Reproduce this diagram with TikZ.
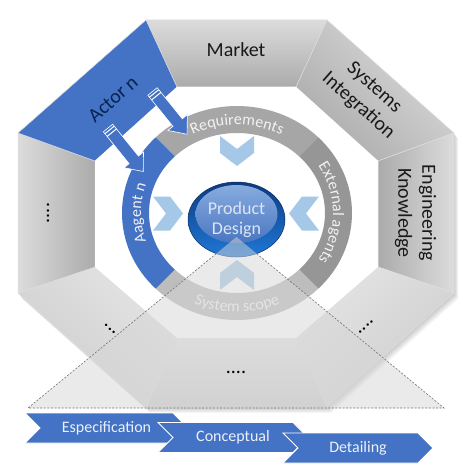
\documentclass[tikz,border=0pt]{standalone}
\usepackage{fontspec}
\setmainfont{Carlito}
\usetikzlibrary{calc,shapes.geometric,shapes.symbols,decorations.text}
\definecolor{actorblue}{HTML}{4472C4}
\definecolor{chevblue}{HTML}{9DC3E6}
\definecolor{ringtop}{HTML}{A6A6A6}
\definecolor{ringright}{HTML}{969696}
\definecolor{ringbottom}{HTML}{BDBDBD}
\definecolor{navy}{HTML}{0E3A80}
\definecolor{brightblue}{HTML}{1F78D6}
\definecolor{highlight}{HTML}{8AAEE0}
\definecolor{paneldark}{HTML}{ABABAB}
\definecolor{panellight}{HTML}{DCDCDC}
\definecolor{floordark}{HTML}{CDCDCD}
\definecolor{floorlight}{HTML}{E4E4E4}
\newcommand{\panelfont}{\fontsize{20}{24}\selectfont}
\newcommand{\ringfont}{\fontsize{16}{16}\selectfont\color{white!95!black}}
\newcommand{\chev}[3]{\fill[chevron, shift={(#1,#2)}, rotate=#3] (-15,17) -- (2,17) -- (15,0) -- (2,-17) -- (-15,-17) -- (-2,0) -- cycle;}
\newcommand{\actarrow}[4]{\begin{scope}[shift={(#1,#2)}, rotate=#3]
  \fill[actorblue, draw=white, line width=0.6pt] (0,6) -- (#4-15,6) -- (#4-15,12.5) -- (#4,0) -- (#4-15,-12.5) -- (#4-15,-6) -- (0,-6) -- cycle;
  \draw[white, line width=1pt] (2.5,-6) -- (2.5,6) (6,-6) -- (6,6);
\end{scope}}
\tikzset{
  panel/.style={shading=axis, draw=white!75!gray, line width=0.5pt},
  chevron/.style={fill=chevblue, opacity=0.9},
  ringlabel/.style={decorate, decoration={text along path, text align=center, text={|\ringfont|#1}}},
  design/.style={ellipse, minimum width=97pt, minimum height=75pt, top color=navy, bottom color=brightblue,
    draw=navy!80!black, line width=0.5pt, align=center, text=white!82!actorblue, font=\fontsize{18}{20}\selectfont,
    path picture={\shade[top color=highlight, bottom color=actorblue!85!navy]
      ([yshift=5.5pt]path picture bounding box.center) ellipse [x radius=41pt, y radius=29pt];}},
  phase/.style={signal, signal to=east, signal from=west, signal pointer angle=90, fill=actorblue, draw=white,
    line width=0.8pt, minimum height=30pt, inner sep=0pt, text=white!90!actorblue, font=\fontsize{16}{16}\selectfont},
  paneltext/.style={text=black!90, font=\panelfont, align=center},
  dotrow/.style={font=\panelfont, text=black},
  guide/.style={draw=black!55, line width=0.6pt, dash pattern=on 2pt off 1.6pt}
}
\begin{document}
\begin{tikzpicture}[x=1pt, y=1pt]
\useasboundingbox (0,0) rectangle (474,467);
\fill[white] (0,0) rectangle (474,467);

\coordinate (o1) at (146,447); \coordinate (o2) at (327,447);
\coordinate (o3) at (454,334); \coordinate (o4) at (454,174);
\coordinate (o5) at (327,60);  \coordinate (o6) at (146,60);
\coordinate (o7) at (18,174);  \coordinate (o8) at (18,334);
\coordinate (i1) at (177,380); \coordinate (i2) at (296,380);
\coordinate (i3) at (378,306); \coordinate (i4) at (378,200);
\coordinate (i5) at (296,129); \coordinate (i6) at (177,129);
\coordinate (i7) at (95,200);  \coordinate (i8) at (95,306);
\coordinate (ring) at (237,254);

\foreach \s in {1,...,6}
  \fill[black, opacity=0.035, transform canvas={shift={(0.7*\s,-\s)}}]
    (o1) -- (o2) -- (o3) -- (o4) -- (o5) -- (o6) -- (o7) -- (o8) -- cycle;

\foreach \a/\b/\ang/\co/\ci in {1/2/0/panellight/paneldark, 2/3/-45/panellight/paneldark,
    3/4/-90/panellight/paneldark, 4/5/-135/floordark/floorlight, 5/6/180/floordark/floorlight,
    6/7/135/floordark/floorlight, 7/8/90/panellight/paneldark}
  \shade[panel, top color=\co, bottom color=\ci, shading angle=\ang] (o\a) -- (o\b) -- (i\b) -- (i\a) -- cycle;
\fill[actorblue, draw=white!75!gray, line width=0.5pt] (o8) -- (o1) -- (i1) -- (i8) -- cycle;
\fill[white] (i1) -- (i2) -- (i3) -- (i4) -- (i5) -- (i6) -- (i7) -- (i8) -- cycle;

\foreach \s/\e/\col in {45/135/ringtop, -45/45/ringright, 225/315/ringbottom, 135/225/actorblue}
  \fill[\col] ($(ring)+(\s:115 and 107)$) arc[start angle=\s, end angle=\e, x radius=115, y radius=107]
    -- ($(ring)+(\e:88 and 80)$) arc[start angle=\e, end angle=\s, x radius=88, y radius=80] -- cycle;

\path[ringlabel=Requirements] ($(ring)+(125:96 and 88)$) arc[start angle=125, end angle=55, x radius=96, y radius=88];
\path[ringlabel=External agents] ($(ring)+(42:96 and 88)$) arc[start angle=42, end angle=-42, x radius=96, y radius=88];
\path[ringlabel=Aagent n] ($(ring)+(215:96 and 88)$) arc[start angle=215, end angle=145, x radius=96, y radius=88];
\path[ringlabel=System scope] ($(ring)+(230:107 and 99)$) arc[start angle=230, end angle=310, x radius=107, y radius=99];

\chev{168}{253.5}{0}
\chev{304}{253.5}{180}
\chev{237}{316}{-90}
\chev{237}{192}{90}

\node[design] (design) at (236.5,247.5) {Product\\Design};

\coordinate (apex) at (236.5,230);
\coordinate (baseL) at (28,59);
\coordinate (baseR) at (444,59);
\fill[black!16, opacity=0.5] (apex) -- (baseL) -- (baseR) -- cycle;
\draw[guide] ($(apex)!0.097!(baseL)$) -- (baseL) -- (baseR) -- ($(apex)!0.097!(baseR)$);

\actarrow{152.5}{375.5}{-51}{55}
\actarrow{108}{339}{-51}{56}

\node[paneltext] (market) at (236,417) {Market};
\node[paneltext, rotate=-41.5] (sysint) at (366,370) {Systems\\Integration};
\node[paneltext, rotate=-90] (engk) at (415.5,254) {Engineering\\Knowledge};
\node[paneltext, rotate=41.5, text=navy!60!black] (actor) at (113,368) {Actor n};
\node[dotrow, rotate=90] (dotsW) at (48,254) {....};
\node[dotrow, rotate=-41.5] (dotsSW) at (110,138) {...};
\node[dotrow] (dotsS) at (236,95) {....};
\node[dotrow, rotate=41.5] (dotsSE) at (366,140) {....};

\node[phase, minimum width=163pt] (spec) at (106.5,39) {Especification};
\node[phase, minimum width=150pt] (concept) at (233,29.5) {Conceptual};
\node[phase, minimum width=150pt] (detail) at (358,19) {Detailing};
\end{tikzpicture}
\end{document}
